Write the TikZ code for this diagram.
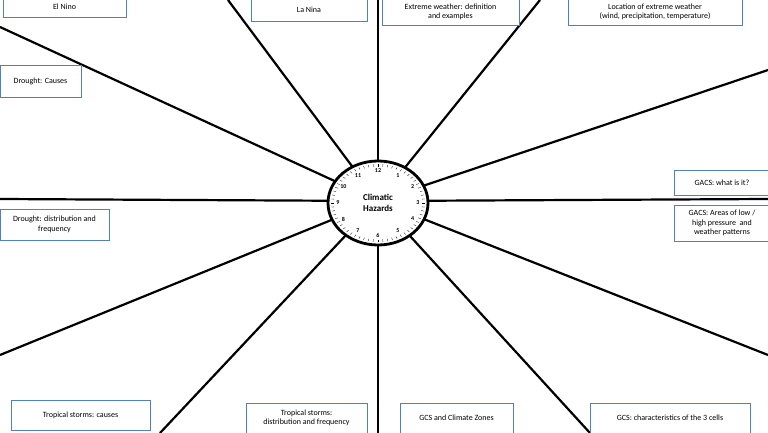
\documentclass[tikz,border=0pt]{standalone}
\usepackage{fontspec}
\setmainfont{Carlito}
\usetikzlibrary{calc,shapes.geometric}
\definecolor{boxblue}{RGB}{79,129,189}
\begin{document}
\begin{tikzpicture}[x=1pt,y=-1pt,
  spoke/.style={line width=2.2pt,black},
  topic/.style={draw=boxblue,line width=0.8pt,fill=white,align=center,font=\fontsize{8}{9.5}\selectfont,inner sep=2pt}]
\useasboundingbox (0,0) rectangle (768,433);
\coordinate (c) at (378,201);
\foreach \ex/\ey [count=\i] in {378/0,378/433,0/199,768/199,0/27,228/0,540/0,768/70,768/355,590/433,160/433,0/355}
  \coordinate (e\i) at (\ex,\ey);
\foreach \i in {1,...,12} \draw[spoke] (c) -- (e\i);
\node[draw,line width=2.8pt,fill=white,ellipse,minimum width=100pt,minimum height=84pt] (clock) at (378,203) {};
\foreach \a in {0,6,...,354}
  \draw[line width=0.3pt] ($(clock.center)+(\a:47 and 39)$) -- ($(clock.center)+(\a:44 and 36.5)$);
\foreach \n in {1,...,12}
  \node[font=\bfseries\fontsize{6}{6}\selectfont,inner sep=0] (n\n) at ($(clock.center)+({90-30*\n}:40 and -32)$) {\n};
\node[font=\bfseries\fontsize{9}{10.5}\selectfont,align=center] (title) at (clock.center) {Climatic\\Hazards};
\node[topic,minimum width=123pt,minimum height=20pt] (elnino) at (64.5,7) {El Nino};
\node[topic,minimum width=81pt,minimum height=32pt] (dc) at (40.5,81) {Drought: Causes};
\node[topic,minimum width=116pt,minimum height=22pt] (lanina) at (309,10) {La Nina};
\node[topic,minimum width=137pt,minimum height=26pt] (ew) at (450.5,12) {Extreme weather: definition\\and examples};
\node[topic,minimum width=174pt,minimum height=26pt] (loc) at (655,12) {Location of extreme weather\\(wind, precipitation, temperature)};
\node[topic,minimum width=95pt,minimum height=25pt] (g1) at (722,182.5) {GACS: what is it?};
\node[topic,minimum width=95pt,minimum height=36pt] (g2) at (722,223) {GACS: Areas of low /\\high pressure\ \ and\\weather patterns};
\node[topic,minimum width=109pt,minimum height=31pt] (dd) at (54.5,224.5) {Drought: distribution and\\frequency};
\node[topic,minimum width=139pt,minimum height=30pt] (tc) at (80.5,415) {Tropical storms: causes};
\node[topic,minimum width=121pt,minimum height=30pt] (td) at (306.5,418) {Tropical storms:\\distribution and frequency};
\node[topic,minimum width=113pt,minimum height=30pt] (gz) at (456.5,418) {GCS and Climate Zones};
\node[topic,minimum width=160pt,minimum height=30pt] (g3) at (670,418) {GCS: characteristics of the 3 cells};
\end{tikzpicture}
\end{document}
